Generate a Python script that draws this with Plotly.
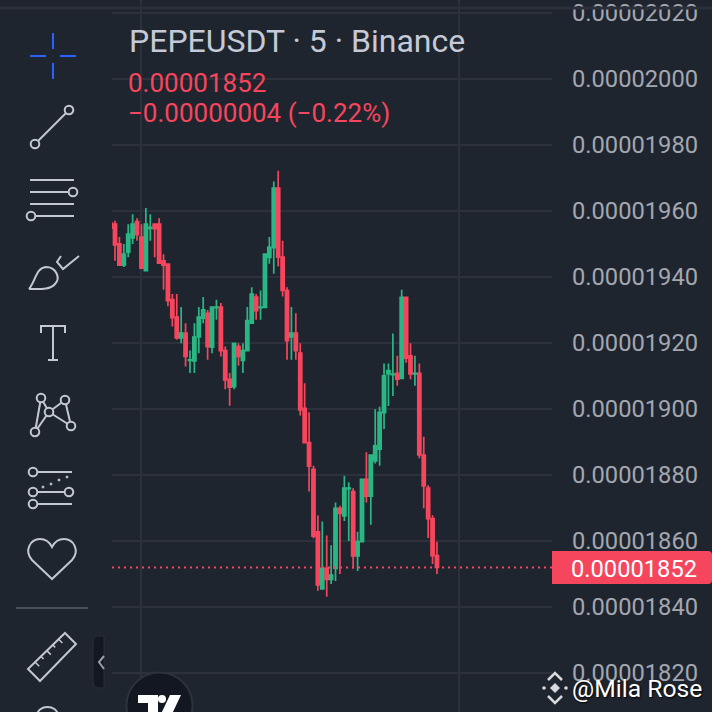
import plotly.graph_objects as go

# 5 minute candles, prices in units of 1e-8
opens = [1956.3, 1956.0, 1950.0, 1943.6, 1947.5, 1951.8, 1956.8, 1952.1, 1941.9, 1954.7,
         1956.0, 1956.0, 1944.9, 1943.9, 1933.1, 1927.8, 1921.5, 1923.0, 1914.7, 1914.6,
         1921.8, 1927.5, 1929.0, 1918.7, 1930.7, 1930.9, 1917.7, 1909.0, 1906.8, 1918.9,
         1914.7, 1917.7, 1926.0, 1933.9, 1930.7, 1930.8, 1945.9, 1948.9, 1966.9, 1946.0,
         1935.9, 1921.8, 1923.0, 1916.9, 1900.2, 1889.8, 1881.7, 1862.8, 1845.5, 1851.7,
         1848.4, 1851.7, 1869.9, 1867.6, 1875.8, 1875.0, 1855.5, 1859.8, 1878.7, 1873.6,
         1884.3, 1887.8, 1898.9, 1910.6, 1910.4, 1910.8, 1909.3, 1933.8, 1916.1, 1910.6,
         1910.8, 1886.0, 1876.0, 1866.8, 1855.6]
highs = [1957.8, 1957.0, 1952.1, 1950.0, 1956.0, 1959.0, 1957.8, 1956.0, 1960.9, 1959.0,
         1956.0, 1957.8, 1946.9, 1943.9, 1934.8, 1934.8, 1930.9, 1926.0, 1917.7, 1926.0,
         1930.9, 1933.9, 1930.0, 1930.9, 1933.1, 1932.1, 1918.9, 1910.9, 1919.9, 1919.9,
         1919.9, 1930.9, 1936.9, 1934.8, 1935.9, 1946.9, 1952.1, 1968.9, 1972.2, 1951.0,
         1936.9, 1930.9, 1929.0, 1919.9, 1907.8, 1899.0, 1882.8, 1867.7, 1865.9, 1861.7,
         1858.7, 1871.7, 1870.7, 1879.8, 1877.8, 1876.0, 1862.8, 1878.7, 1886.9, 1886.0,
         1899.9, 1900.7, 1913.8, 1913.8, 1922.9, 1916.1, 1936.1, 1933.8, 1919.9, 1916.1,
         1913.8, 1891.6, 1876.9, 1867.8, 1859.8]
lows = [1954.3, 1944.9, 1943.6, 1943.0, 1946.0, 1950.0, 1951.0, 1942.4, 1941.9, 1951.0,
        1946.0, 1943.9, 1936.1, 1931.1, 1925.0, 1921.0, 1919.9, 1912.9, 1910.9, 1910.9,
        1916.9, 1926.0, 1914.9, 1916.9, 1927.0, 1915.9, 1906.0, 1901.0, 1906.0, 1913.1,
        1910.9, 1917.4, 1925.8, 1927.0, 1927.0, 1930.8, 1944.0, 1941.0, 1943.2, 1934.1,
        1914.9, 1914.9, 1914.9, 1898.0, 1889.8, 1875.0, 1860.8, 1844.9, 1845.5, 1843.1,
        1847.0, 1847.9, 1850.0, 1866.1, 1860.0, 1851.7, 1850.9, 1859.6, 1871.7, 1864.9,
        1883.5, 1882.8, 1893.9, 1900.9, 1903.9, 1907.0, 1909.0, 1914.0, 1909.0, 1907.0,
        1885.1, 1869.9, 1860.9, 1853.0, 1850.0]
closes = [1954.8, 1949.7, 1943.6, 1946.9, 1953.0, 1956.0, 1952.8, 1942.7, 1956.0, 1955.0,
          1954.6, 1944.2, 1943.6, 1932.8, 1927.7, 1921.5, 1923.0, 1915.9, 1914.9, 1921.8,
          1927.8, 1930.0, 1918.9, 1930.9, 1930.9, 1917.7, 1908.8, 1906.6, 1919.9, 1915.9,
          1917.7, 1926.8, 1934.8, 1929.8, 1930.9, 1946.9, 1949.0, 1966.9, 1946.0, 1935.9,
          1920.7, 1923.0, 1917.7, 1899.7, 1889.8, 1882.7, 1861.5, 1846.7, 1851.7, 1848.4,
          1849.7, 1869.9, 1868.4, 1876.0, 1876.0, 1855.5, 1859.8, 1878.7, 1873.6, 1886.0,
          1888.8, 1899.0, 1910.0, 1911.6, 1910.6, 1909.0, 1933.8, 1915.4, 1910.6, 1910.8,
          1886.1, 1876.7, 1866.8, 1855.6, 1852.0]

price_ticks = ["0.00002020", "0.00002000", "0.00001980", "0.00001960", "0.00001940", "0.00001920",
               "0.00001900", "0.00001880", "0.00001860", "0.00001840", "0.00001820"]
time_grid = [7, 79]
last_price = 1852.0
title_text = "PEPEUSDT · 5 · Binance"
last_text = "0.00001852"
change_text = "\u22120.00000004 (\u22120.22%)"
badge_text = "0.00001852"
watermark = "@Mila Rose"

BG = "#1f252f"
GRID = "#2c313b"
RED = "#f6465d"
GREEN = "#2bb684"
ICON = "#c3c7cf"
DARK = "#131722"
SIZE = 712
E8 = 1e-8


def px(x):
    return x / SIZE


def py(y):
    return 1 - y / SIZE


def line(x0, y0, x1, y1, color=ICON, width=2):
    return dict(type="line", xref="paper", yref="paper", x0=px(x0), y0=py(y0), x1=px(x1), y1=py(y1),
                line=dict(color=color, width=width))


def circle(cx, cy, r, color=ICON, width=2, fill="rgba(0,0,0,0)"):
    return dict(type="circle", xref="paper", yref="paper", x0=px(cx - r), y0=py(cy - r), x1=px(cx + r), y1=py(cy + r),
                line=dict(color=color, width=width), fillcolor=fill)


def path(d, color=ICON, width=2, fill="rgba(0,0,0,0)"):
    # d is a list of svg commands with pixel pairs
    out = []
    for item in d:
        if isinstance(item, str):
            out.append(item)
        else:
            out.append(f"{px(item[0]):.5f},{py(item[1]):.5f}")
    return dict(type="path", xref="paper", yref="paper", path=" ".join(out),
                line=dict(color=color, width=width), fillcolor=fill)


shapes = []

# band at the very top
shapes.append(line(0, 8, SIZE, 8, color="#2a2f39", width=3))

# crosshair
for seg in [(53, 33, 53, 49), (53, 63, 53, 79), (30, 56, 46, 56), (60, 56, 76, 56)]:
    shapes.append(line(*seg, color="#2962ff", width=2))

# trend line
shapes.append(line(38, 141, 66, 113))
shapes.append(circle(35, 144, 4.3))
shapes.append(circle(69, 110, 4.3))

# fib lines
shapes.append(line(30, 180, 74, 180))
shapes.append(line(30, 192, 69, 192))
shapes.append(line(30, 204, 74, 204))
shapes.append(line(35, 216, 74, 216))
shapes.append(circle(73, 192, 4.3))
shapes.append(circle(31, 216, 4.3))

# brush
shapes.append(path(["M", (29, 289), "C", (36, 280), (36, 268), (46, 267), "C", (56, 267), (61, 278), (55, 284),
                    "C", (50, 290), (40, 289), (29, 289)]))
shapes.append(path(["M", (61, 256), "L", (57, 262), "L", (63, 269), "L", (79, 256)]))

# text tool
shapes.append(path(["M", (41, 333), "L", (41, 326), "L", (65, 326), "L", (65, 333)]))
shapes.append(line(53, 326, 53, 360))
shapes.append(line(48, 360, 58, 360))

# pattern tool
nodes = [(41, 398), (65, 400), (49, 412), (35, 432), (71, 426)]
for a, b in [(0, 3), (0, 2), (2, 1), (2, 4), (1, 4), (2, 3)]:
    shapes.append(line(*nodes[a], *nodes[b]))
for n in nodes:
    shapes.append(circle(n[0], n[1], 4.3, fill=BG))

# prediction tool
shapes.append(line(33, 472, 72, 472))
shapes.append(line(33, 492, 69, 492))
shapes.append(line(33, 504, 72, 504))
for c in [(33, 472), (33, 492), (69, 492), (33, 504)]:
    shapes.append(circle(c[0], c[1], 4.3, fill=BG))
for c in [(43, 487), (51, 484), (59, 480), (67, 477)]:
    shapes.append(circle(c[0], c[1], 1, width=1, fill=ICON))

# heart
shapes.append(path(["M", (52, 579), "L", (32, 560), "C", (24, 551), (30, 539), (40, 539), "C", (46, 539), (50, 543), (52, 547),
                    "C", (54, 543), (58, 539), (64, 539), "C", (74, 539), (80, 551), (72, 560), "Z"]))

# separator
shapes.append(line(16, 608, 88, 608, color="#4a4e58", width=2))

# ruler
shapes.append(path(["M", (65, 633), "L", (76, 644), "L", (40, 681), "L", (28, 669), "Z"]))
for i, length in enumerate([6, 4, 6, 4, 6]):
    tx = 35 + i * 5.8
    ty = 662 - i * 5.8
    shapes.append(line(tx, ty, tx + length * 0.7, ty + length * 0.7, width=1.5))

# next icon, cut off by the bottom edge
shapes.append(path(["M", (37, 716), "C", (37, 704), (58, 704), (58, 716)]))

# collapse tab
shapes.append(path(["M", (104, 636), "L", (99, 636), "Q", (93, 636), (93, 643), "L", (93, 681), "Q", (93, 688), (99, 688),
                    "L", (104, 688), "Z"], color="#2a2e39", width=1, fill=DARK))
shapes.append(path(["M", (104, 656), "L", (99, 662), "L", (104, 669)], color="#9a9ea8", width=2))

# tradingview logo
shapes.append(circle(159.5, 705.5, 33, color="#2e323d", width=2, fill=DARK))
shapes.append(path(["M", (138, 695), "L", (158, 695), "L", (158, 716), "L", (148, 716), "L", (148, 703), "L", (138, 703), "Z"],
                   color="white", width=0, fill="white"))
shapes.append(circle(162, 699, 4, color="white", width=0, fill="white"))
shapes.append(path(["M", (170, 695), "L", (181, 695), "L", (171, 716), "L", (160, 716), "Z"], color="white", width=0, fill="white"))

# last price line and badge
shapes.append(dict(type="line", xref="paper", yref="y", x0=px(112), x1=px(552), y0=last_price * E8, y1=last_price * E8,
                   line=dict(color=RED, width=2, dash="2px,4px")))
shapes.append(path(["M", (552, 551), "L", (708, 551), "Q", (712, 551), (712, 555), "L", (712, 580), "Q", (712, 584), (708, 584),
                    "L", (552, 584), "Z"], color=RED, width=0, fill=RED))

# binance diamond next to the watermark
WM = "#d8dade"
shapes.append(path(["M", (555, 683), "L", (560, 688), "L", (555, 693), "L", (550, 688), "Z"], color=WM, width=0, fill=WM))
shapes.append(path(["M", (548, 680), "L", (555, 673), "L", (562, 680)], color=WM, width=2.5))
shapes.append(path(["M", (548, 696), "L", (555, 703), "L", (562, 696)], color=WM, width=2.5))
shapes.append(circle(544, 688, 1.8, color=WM, width=0, fill=WM))
shapes.append(circle(566, 688, 1.8, color=WM, width=0, fill=WM))

fig = go.Figure()

fig.add_trace(
    go.Candlestick(
        x=list(range(len(opens))),
        open=[v * E8 for v in opens],
        high=[v * E8 for v in highs],
        low=[v * E8 for v in lows],
        close=[v * E8 for v in closes],
        increasing=dict(line=dict(color=GREEN, width=1.7), fillcolor=GREEN),
        decreasing=dict(line=dict(color=RED, width=1.7), fillcolor=RED),
        whiskerwidth=0,
        showlegend=False,
    )
)


def label(text, x, y, size, color, **kw):
    return dict(text=text, xref="paper", yref="paper", x=px(x), y=py(y), xanchor="left", yanchor="middle",
                showarrow=False, font=dict(family="Roboto", size=size, color=color, **kw))


annotations = [
    label(title_text, 127, 41, 32, "#c5cad6"),
    label(last_text, 126, 83, 26, RED),
    label(change_text, 126, 113, 26, RED),
    label(badge_text, 569, 569, 23.7, "white"),
    label(watermark, 570, 688, 24.7, "white", shadow="1px 1px 2px #000"),
]

fig.update_layout(
    width=SIZE,
    height=SIZE,
    margin=dict(l=0, r=0, t=0, b=0),
    paper_bgcolor=BG,
    plot_bgcolor=BG,
    showlegend=False,
    boxgap=0,
    shapes=shapes,
    annotations=annotations,
    xaxis=dict(
        domain=[112 / SIZE, 552 / SIZE],
        range=[0.32, 100.08],
        tickvals=time_grid,
        showticklabels=False,
        showgrid=True,
        gridcolor=GRID,
        gridwidth=1.5,
        zeroline=False,
        rangeslider=dict(visible=False),
    ),
    yaxis=dict(
        domain=[0, 1],
        side="right",
        range=[1808.2 * E8, 2023.9 * E8],
        tickvals=[float(t) for t in price_ticks],
        ticktext=price_ticks,
        ticklabelstandoff=19,
        ticklabeloverflow="allow",
        tickfont=dict(family="Roboto", size=23.7, color="#a3a7b0"),
        showgrid=True,
        gridcolor=GRID,
        gridwidth=1.5,
        zeroline=False,
        automargin=False,
    ),
)

# the page body has a default margin that would push the chart off the window
fig.write_html(
    "out.html",
    config=dict(displayModeBar=False),
    post_script="document.body.style.margin='0';document.body.style.overflow='hidden';",
)
